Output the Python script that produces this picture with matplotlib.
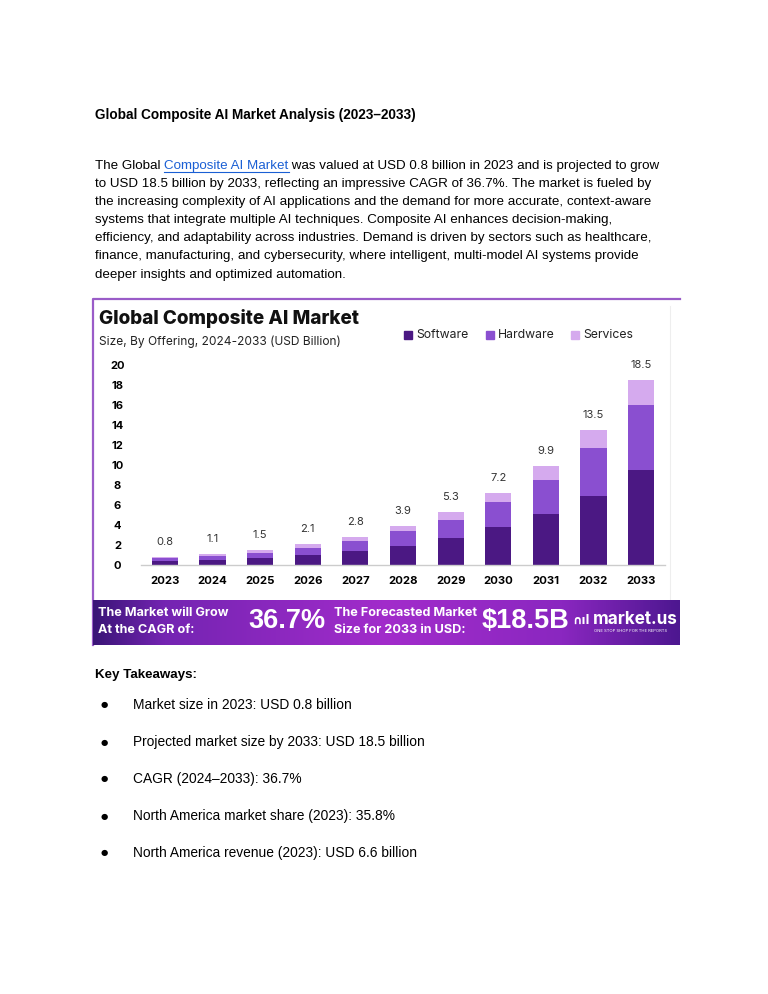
import numpy as np
import matplotlib.pyplot as plt
from matplotlib.colors import LinearSegmentedColormap
from matplotlib.patches import Rectangle

# chart data (USD billion)
years = ['2023', '2024', '2025', '2026', '2027', '2028', '2029', '2030', '2031', '2032', '2033']
software = [0.40, 0.55, 0.75, 1.05, 1.40, 1.95, 2.70, 3.80, 5.10, 6.95, 9.55]
hardware = [0.30, 0.40, 0.50, 0.70, 1.00, 1.45, 1.85, 2.50, 3.45, 4.80, 6.50]
services = [0.10, 0.15, 0.25, 0.35, 0.40, 0.50, 0.75, 0.90, 1.35, 1.75, 2.45]
totals = ['0.8', '1.1', '1.5', '2.1', '2.8', '3.9', '5.3', '7.2', '9.9', '13.5', '18.5']
yticks = [0, 2, 4, 6, 8, 10, 12, 14, 16, 18, 20]

para = [
    "to USD 18.5 billion by 2033, reflecting an impressive CAGR of 36.7%. The market is fueled by",
    "the increasing complexity of AI applications and the demand for more accurate, context-aware",
    "systems that integrate multiple AI techniques. Composite AI enhances decision-making,",
    "efficiency, and adaptability across industries. Demand is driven by sectors such as healthcare,",
    "finance, manufacturing, and cybersecurity, where intelligent, multi-model AI systems provide",
    "deeper insights and optimized automation.",
]
bullets = [
    "Market size in 2023: USD 0.8 billion",
    "Projected market size by 2033: USD 18.5 billion",
    "CAGR (2024\u20132033): 36.7%",
    "North America market share (2023): 35.8%",
    "North America revenue (2023): USD 6.6 billion",
]

c_sw, c_hw, c_sv = '#4b1883', '#8a4fd0', '#d5aaee'
W, H = 768, 994
doc_font = 'Liberation Sans'
chart_font = 'Inter'

fig = plt.figure(figsize=(W / 100, H / 100), dpi=100)
fig.patch.set_facecolor('white')


def fx(x):
    return x / W


def fy(y):
    return 1 - y / H


def px_axes(x0, y0, x1, y1):
    # axes from pixel box (top-left origin)
    return fig.add_axes([fx(x0), fy(y1), (x1 - x0) / W, (y1 - y0) / H])


# document text
fig.text(fx(95), fy(115), "Global Composite AI Market Analysis (2023\u20132033)",
         fontsize=9.85, fontweight='bold', family=doc_font, va='center')

renderer = fig.canvas.get_renderer()
t1 = fig.text(fx(95), fy(166), "The Global ", fontsize=9.6, family=doc_font, va='center')
w1 = t1.get_window_extent(renderer).width
t2 = fig.text(fx(95 + w1), fy(166), "Composite AI Market", fontsize=9.6, family=doc_font,
              va='center', color='#1a5fd4')
w2 = t2.get_window_extent(renderer).width
fig.add_artist(plt.Line2D([fx(95 + w1), fx(95 + w1 + w2)], [fy(172), fy(172)],
                          color='#1a5fd4', lw=0.8))
fig.text(fx(95 + w1 + w2), fy(166),
         " was valued at USD 0.8 billion in 2023 and is projected to grow",
         fontsize=9.6, family=doc_font, va='center')
for i, line in enumerate(para):
    fig.text(fx(95), fy(184 + 18.1 * i), line, fontsize=9.6, family=doc_font, va='center')

fig.text(fx(95), fy(675), "Key Takeaways:", fontsize=9.6, fontweight='bold',
         family=doc_font, va='center')
for i, b in enumerate(bullets):
    y = 705 + 37 * i
    fig.text(fx(104), fy(y), "\u25cf", fontsize=6, family='DejaVu Sans', va='center', ha='center')
    fig.text(fx(133), fy(y), b, fontsize=9.9, family=doc_font, va='center')

# chart image frame (top and left edges visible, right side cut)
frame = px_axes(93, 299, 680, 645)
frame.set_xlim(0, 1)
frame.set_ylim(0, 1)
frame.axis('off')
frame.plot([0, 0, 1], [0, 1, 1], color='#9a5cc8', lw=1.6, transform=frame.transAxes,
           clip_on=False)
frame.plot([0.983, 0.983], [0.13, 0.98], color='#eeeeee', lw=0.8, transform=frame.transAxes)

# gradient banner
ban = px_axes(93, 600, 680, 645)
cmap = LinearSegmentedColormap.from_list('ban', [(0, '#3a1577'), (0.12, '#7424b2'),
                                                  (0.5, '#a22ccb'), (0.8, '#8a27c0'),
                                                  (1, '#4d1790')])
ban.imshow(np.linspace(0, 1, 256)[None, :], aspect='auto', cmap=cmap, extent=[0, 1, 0, 1])
ban.set_xlim(0, 1)
ban.set_ylim(0, 1)
ban.axis('off')
fig.text(fx(98), fy(613), "The Market will Grow", color='white', fontsize=9.1,
         fontweight='bold', family=chart_font, va='center')
fig.text(fx(98), fy(630), "At the CAGR of:", color='white', fontsize=9.1,
         fontweight='bold', family=chart_font, va='center')
fig.text(fx(248), fy(621), "36.7%", color='white', fontsize=19.5, fontweight='bold',
         family=doc_font, va='center')
fig.text(fx(334), fy(613), "The Forecasted Market", color='white', fontsize=9.1,
         fontweight='bold', family=chart_font, va='center')
fig.text(fx(334), fy(630), "Size for 2033 in USD:", color='white', fontsize=9.1,
         fontweight='bold', family=chart_font, va='center')
fig.text(fx(482), fy(621), "$18.5B", color='white', fontsize=19.5, fontweight='bold',
         family=doc_font, va='center')
fig.text(fx(572), fy(620), "\u2229\u0131l", color='white', fontsize=8.5, fontweight='bold',
         family='DejaVu Sans', va='center')
fig.text(fx(593), fy(619), "market.us", color='white', fontsize=12.3, fontweight='bold',
         family=chart_font, va='center')
fig.text(fx(594), fy(631), "ONE STOP SHOP FOR THE REPORTS", color='white', fontsize=3.0,
         family=chart_font, va='center')

# chart title and legend
fig.text(fx(99), fy(319), "Global Composite AI Market", fontsize=13.6, fontweight='heavy',
         family=chart_font, va='center', color='#111111')
fig.text(fx(99), fy(342), "Size, By Offering, 2024-2033 (USD Billion)", fontsize=8.6,
         family=chart_font, va='center', color='#222222')
for xs, lab, col in [(404, 'Software', c_sw), (486, 'Hardware', c_hw), (571, 'Services', c_sv)]:
    fig.add_artist(Rectangle((fx(xs), fy(339)), 8 / W, 8 / H, color=col))
    fig.text(fx(xs + 12), fy(335), lab, fontsize=8.8, family=chart_font, va='center',
             color='#222222')

# bar chart
ytop = 20.8
scale = 10.0
ax = px_axes(141, 565 - ytop * scale, 665, 565)
ax.set_facecolor('none')
x = np.arange(len(years))
bw = 0.55
sw = np.array(software)
hw = np.array(hardware)
sv = np.array(services)
ax.bar(x, sw, bw, color=c_sw)
ax.bar(x, hw, bw, bottom=sw, color=c_hw)
ax.bar(x, sv, bw, bottom=sw + hw, color=c_sv)
for xi, top, lab in zip(x, sw + hw + sv, totals):
    ax.annotate(lab, (xi, top), xytext=(0, 7), textcoords='offset points', ha='center',
                va='bottom', fontsize=8, family=chart_font, color='#333333',
                annotation_clip=False)
ax.set_xlim(-0.5, len(years) - 0.5)
ax.set_ylim(0, ytop)
ax.set_yticks(yticks)
ax.set_yticklabels([str(v) for v in yticks], fontsize=8, fontweight='bold', family=chart_font)
for lbl in ax.get_yticklabels():
    lbl.set_ha('center')
ax.tick_params(axis='y', length=0, pad=17)
ax.set_xticks(x)
ax.set_xticklabels(years, fontsize=8.2, fontweight='bold', family=chart_font)
ax.tick_params(axis='x', length=0, pad=8)
for s in ['top', 'right', 'left']:
    ax.spines[s].set_visible(False)
ax.spines['bottom'].set_color('#cccccc')
ax.spines['bottom'].set_linewidth(1.0)

fig.savefig('out.png', dpi=100)
